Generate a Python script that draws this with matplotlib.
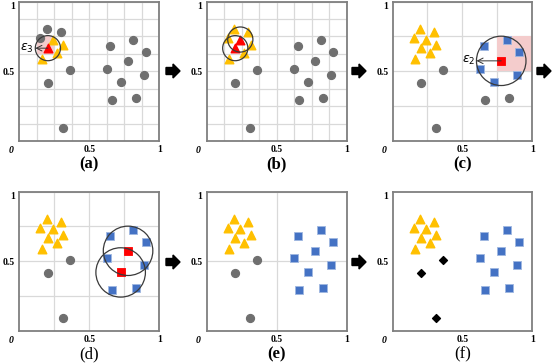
import numpy as np
import matplotlib
matplotlib.use("Agg")
import matplotlib.pyplot as plt
from matplotlib.patches import Circle, Rectangle, FancyArrow
from matplotlib.transforms import IdentityTransform

# point positions
tri_x = [0.195, 0.295, 0.15, 0.24, 0.313, 0.204, 0.268, 0.159]
tri_y = [0.80, 0.78, 0.737, 0.728, 0.692, 0.666, 0.628, 0.59]
noise_x = [0.363, 0.204, 0.309]
noise_y = [0.511, 0.415, 0.095]
sq_x = [0.651, 0.815, 0.905, 0.777, 0.627, 0.888, 0.724, 0.663, 0.834]
sq_y = [0.68, 0.721, 0.637, 0.575, 0.52, 0.475, 0.42, 0.294, 0.31]

# state of each point in each panel: g=unvisited, c=cluster, r=core being expanded
tri_state = ["gggccrcc", "cccrcrcc", "cccccccc", "cccccccc", "cccccccc", "cccccccc"]
sq_state = ["ggggggggg", "ggggggggg", "cccrcccgg", "cccrccrcc", "ccccccccc", "ccccccccc"]
noise_state = ["g", "g", "g", "g", "g", "n"]
labels = ["(a)", "(b)", "(c)", "(d)", "(e)", "(f)"]
grid_step = [0.125, 0.125, 0.25, 0.25, 0.5, None]
eps_r = [0.09, 0.09, 0.177, 0.177, None, None]
eps_lab = [r"$\varepsilon_3$", None, r"$\varepsilon_2$", None, None, None]

GRAY = "#6f6f6f"
ORANGE = "#ffc000"
BLUE = "#4472c4"
RED = "#ff0000"
PINK = "#f4cccc"

fig = plt.figure(figsize=(5.53, 3.64), dpi=100)
lefts = [0.035, 0.3738, 0.7098]
bottoms = [0.6126, 0.0907]

for k in range(6):
    ax = fig.add_axes([lefts[k % 3], bottoms[k // 3], 0.2530, 0.3830])
    ax.set_xlim(0, 1)
    ax.set_ylim(0, 1)
    step = grid_step[k]
    if step:
        g = list(np.arange(step, 1, step))
        ax.set_xticks(g + [1])
        ax.set_yticks(g + [1])
        ax.grid(True, color="#d9d9d9", lw=0.9, zorder=0)
    else:
        ax.set_xticks([0.5, 1])
        ax.set_yticks([0.5, 1])
    ax.set_xticklabels(["0.5" if abs(t - 0.5) < 1e-9 else ("1" if t == 1 else "") for t in ax.get_xticks()])
    ax.set_yticklabels(["0.5" if abs(t - 0.5) < 1e-9 else ("1" if t == 1 else "") for t in ax.get_yticks()])
    ax.tick_params(length=0, labelsize=7, pad=3)
    for lab in ax.get_xticklabels() + ax.get_yticklabels():
        lab.set_family("Liberation Serif")
        lab.set_weight("bold")
    ax.get_yticklabels()[-1].set_verticalalignment("top")
    ax.set_axisbelow(True)
    for s in ax.spines.values():
        s.set_color("#7f7f7f")
        s.set_linewidth(1.3)
    ax.text(-0.06, -0.065, "0", transform=ax.transAxes, ha="center", va="center",
            fontsize=7, family="Liberation Serif", weight="bold", style="italic")
    ax.text(0.5, -0.165, labels[k], transform=ax.transAxes, ha="center", va="center",
            fontsize=12, family="Liberation Serif",
            weight="normal" if k in (3, 5) else "bold")

    # cores and pink cells
    cores = []
    for i, s in enumerate(tri_state[k]):
        if s == "r":
            cores.append((tri_x[i], tri_y[i]))
    for i, s in enumerate(sq_state[k]):
        if s == "r":
            cores.append((sq_x[i], sq_y[i]))
    if eps_lab[k]:
        cx, cy = cores[0]
        x0 = np.floor(cx / step) * step
        y0 = np.floor(cy / step) * step
        ax.add_patch(Rectangle((x0, y0), step, step, facecolor=PINK, edgecolor="none", zorder=1))
    for cx, cy in cores:
        ax.add_patch(Circle((cx, cy), eps_r[k], facecolor="none", edgecolor="#3a3a3a", lw=0.9, zorder=4))
    if eps_lab[k]:
        cx, cy = cores[0]
        r = eps_r[k]
        ax.annotate("", xy=(cx - r, cy), xytext=(cx, cy),
                    arrowprops=dict(arrowstyle="->", lw=0.7, color="#333333", shrinkA=0, shrinkB=0), zorder=5)
        ax.text(cx - r - 0.01, cy, eps_lab[k], ha="right", va="center", fontsize=9, zorder=5)

    # points
    for i, s in enumerate(tri_state[k]):
        if s == "g":
            ax.scatter(tri_x[i], tri_y[i], s=32, color=GRAY, zorder=3)
        else:
            ax.scatter(tri_x[i], tri_y[i], s=38, marker="^", color=RED if s == "r" else ORANGE, zorder=3)
    for i, s in enumerate(sq_state[k]):
        if s == "g":
            ax.scatter(sq_x[i], sq_y[i], s=32, color=GRAY, zorder=3)
        else:
            ax.scatter(sq_x[i], sq_y[i], s=30, marker="s", color=RED if s == "r" else BLUE,
                       edgecolor="#9fb7e0" if s == "c" else RED, lw=0.6, zorder=3)
    for i in range(len(noise_x)):
        if noise_state[k] == "n":
            ax.scatter(noise_x[i], noise_y[i], s=16, marker="D", color="black", zorder=3)
        else:
            ax.scatter(noise_x[i], noise_y[i], s=32, color=GRAY, zorder=3)

# black block arrows between panels (pixel coords)
for x0, y0 in [(166, 293), (352, 293), (537, 293), (166, 102), (352, 102)]:
    fig.add_artist(FancyArrow(x0, y0, 14, 0, width=7, head_width=14, head_length=7,
                              length_includes_head=True, transform=IdentityTransform(),
                              color="black"))

fig.savefig("out.png", dpi=100)
